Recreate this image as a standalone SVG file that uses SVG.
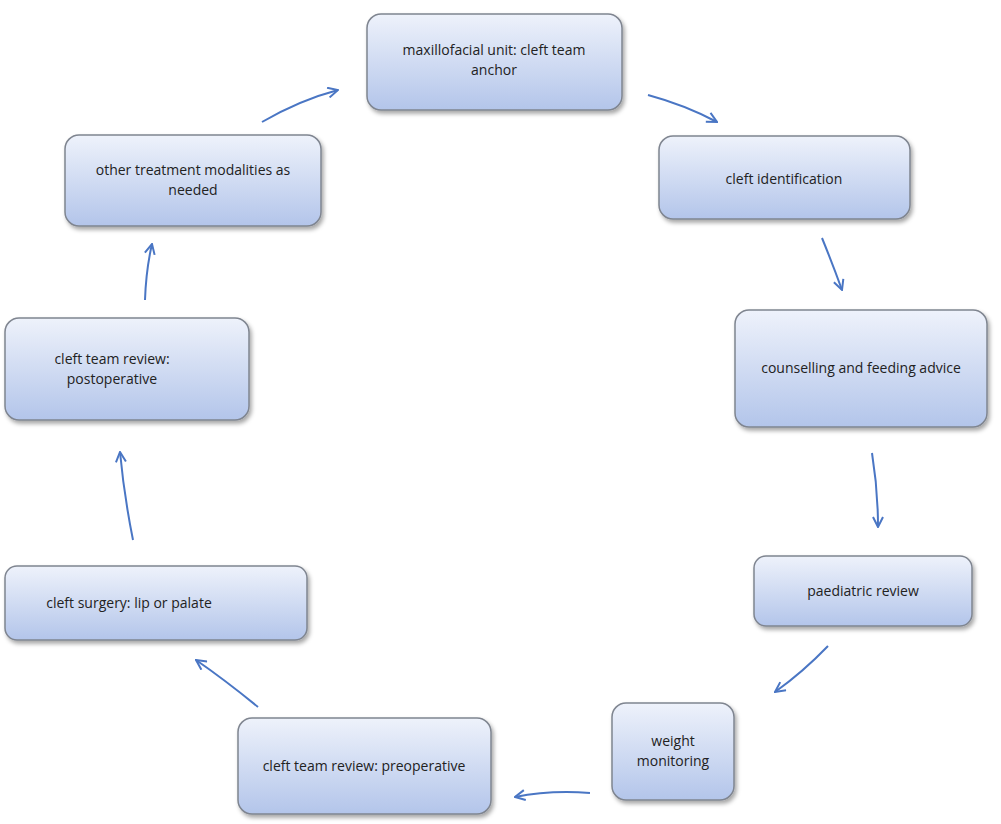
<svg xmlns="http://www.w3.org/2000/svg" width="1001" height="824" viewBox="0 0 1001 824">
<style>
.n rect{fill:url(#g);stroke:#7f8590;stroke-width:1.5;filter:url(#s)}
.n text{font-family:"Open Sans","Liberation Sans",sans-serif;font-size:14px;fill:#222;text-anchor:middle}
.c path{fill:none;stroke:#4a76c4;stroke-width:2;marker-end:url(#a)}
</style>
<defs>
<linearGradient id="g" x1="0" y1="0" x2="0" y2="1"><stop offset="0" stop-color="#eef2fb"/><stop offset="1" stop-color="#b3c5ea"/></linearGradient>
<filter id="s" x="-10%" y="-10%" width="125%" height="130%"><feDropShadow dx="2" dy="3" stdDeviation="2" flood-color="#000" flood-opacity="0.35"/></filter>
<marker id="a" viewBox="0 0 12 12" refX="11" refY="6" markerWidth="12" markerHeight="12" markerUnits="userSpaceOnUse" orient="auto"><path d="M1,1 L11,6 L1,11" fill="none" stroke="#4a76c4" stroke-width="2"/></marker>
</defs>
<rect width="1001" height="824" fill="#fff"/>
<g class="c">
<path d="M262,122 Q300,100 338,90"/>
<path d="M648,95 Q685,105 717,122"/>
<path d="M822,238 Q833,265 842,290"/>
<path d="M872,453 Q878,490 878,527"/>
<path d="M828,646 Q803,672 775,692"/>
<path d="M590,793 Q550,790 515,797"/>
<path d="M258,707 Q225,680 196,660"/>
<path d="M133,540 Q124,495 120,452"/>
<path d="M145,300 Q146,270 152,244"/>
</g>
<g id="n1" class="n"><rect x="367" y="14" width="255" height="96" rx="14"/><text x="494" y="55">maxillofacial unit: cleft team</text><text x="494" y="75">anchor</text></g>
<g id="n2" class="n"><rect x="659" y="136" width="251" height="83" rx="14"/><text x="784" y="184">cleft identification</text></g>
<g id="n3" class="n"><rect x="735" y="310" width="252" height="117" rx="14"/><text x="861" y="373">counselling and feeding advice</text></g>
<g id="n4" class="n"><rect x="754" y="556" width="218" height="70" rx="12"/><text x="863" y="596">paediatric review</text></g>
<g id="n5" class="n"><rect x="612" y="703" width="122" height="97" rx="14"/><text x="673" y="746">weight</text><text x="673" y="766">monitoring</text></g>
<g id="n6" class="n"><rect x="238" y="718" width="253" height="96" rx="14"/><text x="364" y="771">cleft team review: preoperative</text></g>
<g id="n7" class="n"><rect x="5" y="566" width="302" height="74" rx="12"/><text x="129" y="608">cleft surgery: lip or palate</text></g>
<g id="n8" class="n"><rect x="5" y="318" width="244" height="102" rx="14"/><text x="112" y="364">cleft team review:</text><text x="112" y="384">postoperative</text></g>
<g id="n9" class="n"><rect x="65" y="135" width="256" height="91" rx="14"/><text x="193" y="175">other treatment modalities as</text><text x="193" y="195">needed</text></g>
</svg>
